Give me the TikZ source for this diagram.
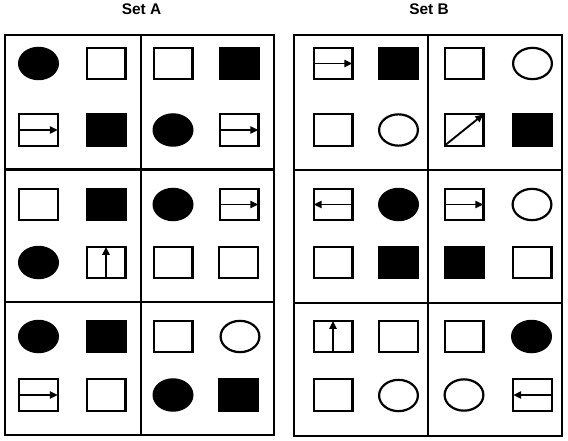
\documentclass[tikz,border=0pt]{standalone}
\usepackage{fontspec}
\setmainfont{Liberation Sans}
\usetikzlibrary{arrows.meta,shapes.geometric}
\newcommand{\boxarrow}[2]{\draw [pointer] (#1) -- (#2);}

\begin{document}
\begin{tikzpicture}[x=1pt, y=-1pt,
 every node/.style={inner sep=0pt, outer sep=0pt},
 openbox/.style={draw, line width=2.2pt, minimum width=38.8pt, minimum height=31.3pt},
 fullbox/.style={fill=black, minimum width=41pt, minimum height=33.5pt},
 openoval/.style={ellipse, draw, line width=2.2pt, minimum width=38.8pt, minimum height=31.3pt},
 fulloval/.style={ellipse, fill=black, minimum width=41pt, minimum height=33.5pt},
 pointer/.style={line width=1.9pt, -{Triangle[length=8pt, width=7pt]}},
 frame/.style={line width=2.8pt},
 settitle/.style={font=\fontsize{15.4}{18}\selectfont\bfseries}]

 \useasboundingbox (0,0) rectangle (568,441);

 % titles
 \node[settitle] (titleA) at (141.5,9.5) {Set A};
 \node[settitle] (titleB) at (429,9.5) {Set B};

 % frames of set A
 \draw[frame] (5,35) rectangle (274,435);
 \draw[frame] (141,35) -- (141,435);
 \draw[frame] (5,169.5) -- (274,169.5);
 \draw[frame] (5,302) -- (274,302);
 % frames of set B
 \draw[frame] (294,35) rectangle (562,436);
 \draw[frame] (428,35) -- (428,436);
 \draw[frame] (294,170) -- (562,170);
 \draw[frame] (294,303) -- (562,303);

 % set A, row 1
 \node[fulloval] (a1) at (38.5,63.5) {};
 \node[openbox]  (a2) at (106,63.5) {};
 \node[openbox]  (a3) at (38.5,130) {};
 \node[fullbox]  (a4) at (106,130) {};
 \node[openbox]  (a5) at (173,63.5) {};
 \node[fullbox]  (a6) at (239,63.5) {};
 \node[fulloval] (a7) at (173,130) {};
 \node[openbox]  (a8) at (239,130) {};
 \boxarrow{a3.west}{a3.east}
 \boxarrow{a8.west}{a8.east}

 % set A, row 2
 \node[openbox]  (a9)  at (38.5,204.5) {};
 \node[fullbox]  (a10) at (106,204.5) {};
 \node[fulloval] (a11) at (38.5,262.5) {};
 \node[openbox]  (a12) at (106,262.5) {};
 \node[fulloval] (a13) at (173,204.5) {};
 \node[openbox]  (a14) at (239,204.5) {};
 \node[openbox]  (a15) at (173,262.5) {};
 \node[openbox]  (a16) at (238.5,262.5) {};
 \boxarrow{a12.south}{a12.north}
 \boxarrow{a14.west}{a14.east}

 % set A, row 3
 \node[fulloval] (a17) at (38.5,336.5) {};
 \node[fullbox]  (a18) at (106,336.5) {};
 \node[openbox]  (a19) at (38.5,395) {};
 \node[openbox]  (a20) at (106,395) {};
 \node[openbox]  (a21) at (173,336.5) {};
 \node[openoval] (a22) at (240,336.5) {};
 \node[fulloval] (a23) at (173,395) {};
 \node[fullbox]  (a24) at (238.5,395) {};
 \boxarrow{a19.west}{a19.east}

 % set B, row 1
 \node[openbox]  (b1) at (333,63.5) {};
 \node[fullbox]  (b2) at (398.5,63.5) {};
 \node[openbox]  (b3) at (333,130) {};
 \node[openoval] (b4) at (398.5,130) {};
 \node[openbox]  (b5) at (464,63.5) {};
 \node[openoval] (b6) at (532.5,63.5) {};
 \node[openbox]  (b7) at (464,130) {};
 \node[fullbox]  (b8) at (532.5,130) {};
 \boxarrow{b1.west}{b1.east}
 \boxarrow{b7.south west}{b7.north east}

 % set B, row 2
 \node[openbox]  (b9)  at (333,204.5) {};
 \node[fulloval] (b10) at (398.5,204.5) {};
 \node[openbox]  (b11) at (333,262.5) {};
 \node[fullbox]  (b12) at (398.5,262.5) {};
 \node[openbox]  (b13) at (464,204.5) {};
 \node[openoval] (b14) at (532,204.5) {};
 \node[fullbox]  (b15) at (464,262.5) {};
 \node[openbox]  (b16) at (532,262.5) {};
 \boxarrow{b9.east}{b9.west}
 \boxarrow{b13.west}{b13.east}

 % set B, row 3
 \node[openbox]  (b17) at (333,336.5) {};
 \node[openbox]  (b18) at (398.5,336.5) {};
 \node[openbox]  (b19) at (333,395) {};
 \node[openoval] (b20) at (398.5,395.5) {};
 \node[openbox]  (b21) at (464,336.5) {};
 \node[fulloval] (b22) at (531.5,336.5) {};
 \node[openoval] (b23) at (464,395) {};
 \node[openbox]  (b24) at (532.5,395) {};
 \boxarrow{b17.south}{b17.north}
 \boxarrow{b24.east}{b24.west}
\end{tikzpicture}
\end{document}
